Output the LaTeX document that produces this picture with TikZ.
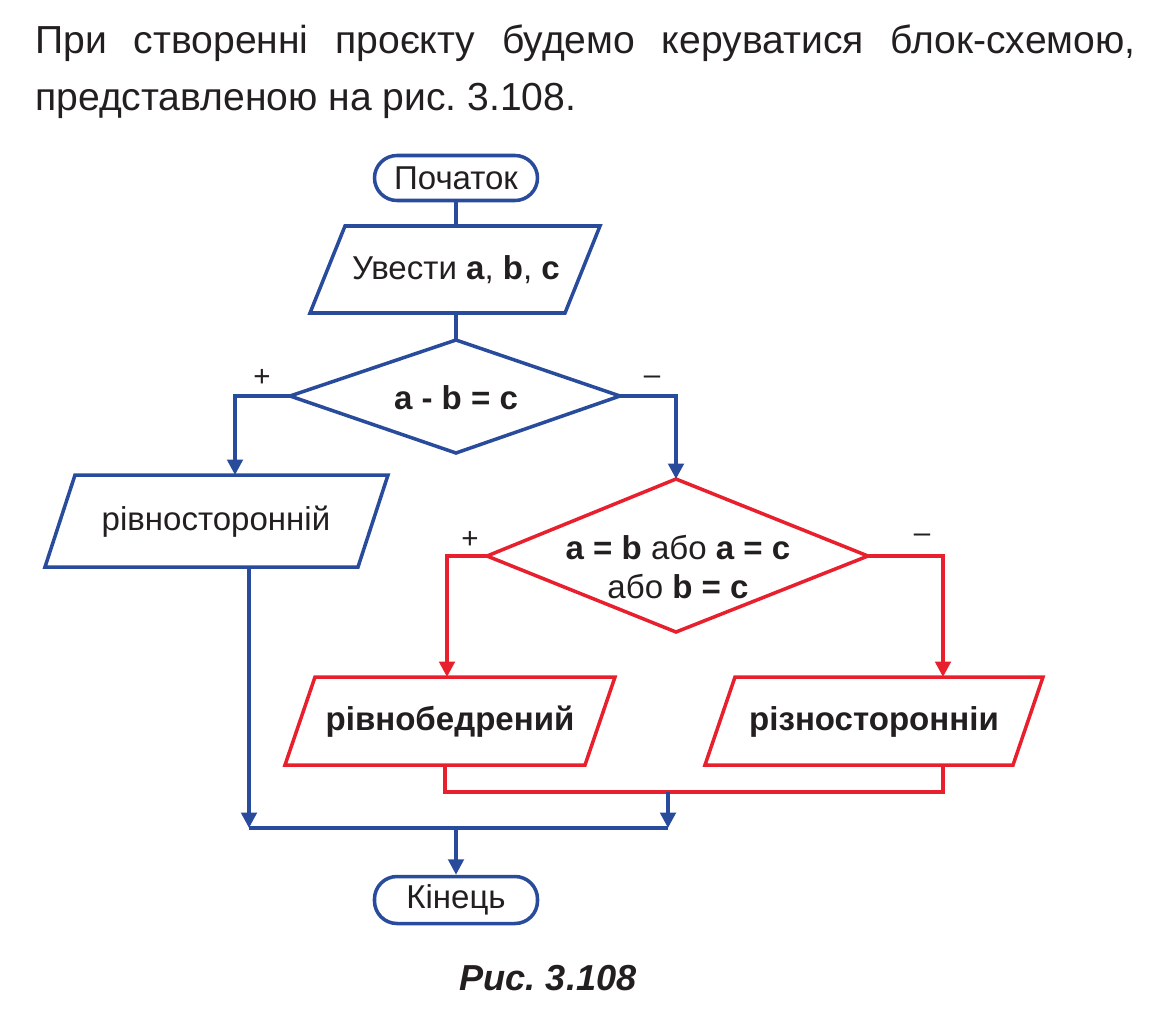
\documentclass[tikz,border=0pt]{standalone}
\usepackage{fontspec}
\setmainfont{Liberation Sans}
\usetikzlibrary{arrows.meta}
\definecolor{fblue}{RGB}{40,75,155}
\definecolor{fred}{RGB}{232,32,45}
\definecolor{ftext}{RGB}{35,31,32}
\frenchspacing
\begin{document}
\begin{tikzpicture}[x=0.025cm,y=-0.025cm,
  bl/.style={draw=fblue,line width=2.5pt,line join=miter},
  rd/.style={draw=fred,line width=2.5pt,line join=miter},
  arr/.style={-{Triangle[length=11pt,width=11pt]}},
  lbl/.style={text=ftext,font=\fontsize{23.5}{28}\selectfont,inner sep=0pt},
  sign/.style={text=ftext,font=\fontsize{21}{24}\selectfont,inner sep=0pt}]
\useasboundingbox (0,0) rectangle (1160,1021);
\node[anchor=north west,inner sep=0pt,text=ftext,align=justify,text width=27.5cm,font=\fontsize{27.8}{40}\selectfont] (hdr) at (35,25)
 {При створенні проєкту будемо керуватися блок-схемою,\linebreak представленою на рис. 3.108.};
% start
\node[bl,rounded corners=22.5*0.025cm,minimum width=163*0.025cm,minimum height=45*0.025cm,lbl] (start) at (456,178) {Початок};
% input
\draw[bl] (345,226) coordinate (in1) -- (600,226) -- (565,313) -- (310,313) -- cycle;
\node[lbl] (input) at (456,270) {Увести \textbf{a}, \textbf{b}, \textbf{c}};
\coordinate (inT) at (456,226); \coordinate (inB) at (456,313);
% diamond 1
\draw[bl] (456,340) coordinate (d1T) -- (620,396) coordinate (d1R) -- (456,453) -- (290,396) coordinate (d1L) -- cycle;
\node[lbl] (cond1) at (456,398) {\textbf{a - b = c}};
\node[sign] (p1) at (262,378) {+};
\node[sign] (m1) at (652,380) {–};
% left box
\draw[bl] (75,475) -- (388,475) -- (358,567) -- (45,567) -- cycle;
\node[lbl] (eq) at (216,522) {рівносторонній};
\coordinate (eqT) at (235,475); \coordinate (eqB) at (249,567);
% red diamond
\draw[rd] (676,479) coordinate (d2T) -- (868,556) coordinate (d2R) -- (676,632) -- (487,556) coordinate (d2L) -- cycle;
\node[lbl,align=center] (cond2) at (678,567) {\textbf{a = b} або \textbf{a = c}\\[0pt]або \textbf{b = c}};
\node[sign] (p2) at (470,540) {+};
\node[sign] (m2) at (922,538) {–};
% red boxes
\draw[rd] (315,677) -- (615,677) -- (585,765) -- (285,765) -- cycle;
\node[lbl] (iso) at (450,722) {\textbf{рівнобедрений}};
\draw[rd] (735,677) -- (1043,677) -- (1013,765) -- (705,765) -- cycle;
\node[lbl] (sca) at (874,722) {\textbf{різносторонніи}};
\coordinate (isoT) at (447,677); \coordinate (scaT) at (943,677);
\coordinate (isoB) at (445,765); \coordinate (scaB) at (943,765);
% end
\node[bl,rounded corners=22.5*0.025cm,minimum width=163*0.025cm,minimum height=47*0.025cm,lbl] (stop) at (456,900) {Кінець};
% connectors
\draw[bl] (start.south) -- (inT);
\draw[bl] (inB) -- (d1T);
\draw[bl,arr] (d1L) -| (eqT);
\draw[bl,arr] (d1R) -| (d2T);
\draw[rd,arr] (d2L) -| (isoT);
\draw[rd,arr] (d2R) -| (scaT);
\draw[rd] (isoB) |- (943,792) coordinate (rj) -- (scaB);
\coordinate (rj2) at (668,792);
\coordinate (bj) at (668,828);
\coordinate (lj) at (249,828);
\coordinate (mj) at (456,828);
\draw[bl,arr] (eqB) -- (lj);
\draw[bl,arr] (rj2) -- (bj);
\draw[bl] (lj) -- (bj);
\draw[bl,arr] (mj) -- (stop.north);
\node[text=ftext,font=\fontsize{25.7}{30}\selectfont\bfseries\itshape,inner sep=0pt] (cap) at (548,978) {Рис. 3.108};
\end{tikzpicture}
\end{document}
